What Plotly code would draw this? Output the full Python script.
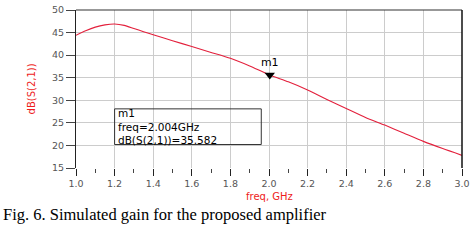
import plotly.graph_objects as go

freq = [1.0, 1.05, 1.1, 1.15, 1.2, 1.25, 1.3, 1.35, 1.4, 1.5, 1.6, 1.7, 1.8, 1.9, 2.0,
        2.1, 2.2, 2.3, 2.4, 2.5, 2.6, 2.7, 2.8, 2.9, 3.0]
gain_db = [44.4, 45.4, 46.2, 46.7, 46.9, 46.6, 45.9, 45.2, 44.5, 43.2, 41.9, 40.6, 39.3,
           37.6, 35.65, 34.1, 32.3, 30.2, 28.2, 26.2, 24.5, 22.7, 20.9, 19.3, 17.8]

marker_name = "m1"
marker_freq = 2.004
marker_db = 35.582

x_ticks = [1.0, 1.2, 1.4, 1.6, 1.8, 2.0, 2.2, 2.4, 2.6, 2.8, 3.0]
x_tick_labels = ["1.0", "1.2", "1.4", "1.6", "1.8", "2.0", "2.2", "2.4", "2.6", "2.8", "3.0"]
y_ticks = [15, 20, 25, 30, 35, 40, 45, 50]

W, H = 474, 249
L, R, T, B = 76, 8, 4.5, 80.5
pw = W - L - R
ph = H - T - B

def px_x(p):
    return (p - L) / pw

def px_y(p):
    return (H - B - p) / ph

fig = go.Figure()
fig.add_trace(go.Scatter(x=freq, y=gain_db, mode="lines",
                         line=dict(color="#e3203c", width=1.1, shape="spline", smoothing=0.6),
                         hoverinfo="skip"))
fig.add_trace(go.Scatter(x=[marker_freq], y=[marker_db], mode="markers+text",
                         marker=dict(symbol="triangle-down", size=9, color="black"),
                         text=[marker_name], textposition="top center",
                         textfont=dict(family="DejaVu Sans", size=11, color="black"),
                         hoverinfo="skip"))

tickfont = dict(family="DejaVu Sans", size=9.5, color="#555555")
fig.update_layout(
    width=W, height=H, margin=dict(l=L, r=R, t=T, b=B),
    paper_bgcolor="white", plot_bgcolor="white", showlegend=False,
    xaxis=dict(range=[1.0, 3.0], tickvals=x_ticks, ticktext=x_tick_labels,
               showgrid=True, gridcolor="#cccccc", gridwidth=1,
               ticks="outside", ticklen=7, tickcolor="#222222", tickwidth=1,
               minor=dict(dtick=0.1, ticks="outside", ticklen=4, tickcolor="#444444", showgrid=False),
               showline=False, zeroline=False, tickfont=tickfont, ticklabeloverflow="allow"),
    yaxis=dict(range=[15, 50], tickvals=y_ticks,
               showgrid=True, gridcolor="#cccccc", gridwidth=1,
               ticks="outside", ticklen=9, tickcolor="#444444",
               showline=True, linecolor="#222222", linewidth=1,
               zeroline=False, tickfont=tickfont, ticklabeloverflow="allow"),
)

# top and right frame lines
fig.add_shape(type="line", xref="paper", yref="paper", x0=0, x1=1, y0=1, y1=1,
              line=dict(color="#333333", width=1.2))
fig.add_shape(type="line", xref="paper", yref="paper", x0=1, x1=1, y0=0, y1=1,
              line=dict(color="#111111", width=1.5))

# marker readout box
fig.add_shape(type="rect", xref="x", yref="y", x0=1.2, x1=1.96, y0=20.2, y1=28.1,
              line=dict(color="#333333", width=1), fillcolor="rgba(255,255,255,0)")
box_text = "<br>".join([marker_name, "freq=%.3fGHz" % marker_freq, "dB(S(2,1))=%.3f" % marker_db])
fig.add_annotation(x=1.208, y=24.15, xref="x", yref="y", text=box_text, align="left",
                   showarrow=False, xanchor="left", yanchor="middle",
                   font=dict(family="DejaVu Sans", size=10.5, color="black"))

fig.add_annotation(x=px_x(31), y=0.5, xref="paper", yref="paper", text="dB(S(2,1))",
                   textangle=-90, showarrow=False, xanchor="center", yanchor="middle",
                   font=dict(family="DejaVu Sans", size=10, color="#ee1c1c"))
fig.add_annotation(x=0.5, y=px_y(198), xref="paper", yref="paper", text="freq, GHz",
                   showarrow=False, xanchor="center", yanchor="middle",
                   font=dict(family="DejaVu Sans", size=10, color="#ee1c1c"))
fig.add_annotation(x=px_x(0), y=px_y(217), xref="paper", yref="paper",
                   text="Fig. 6. Simulated gain for the proposed amplifier",
                   showarrow=False, xanchor="left", yanchor="middle",
                   font=dict(family="Liberation Serif", size=16.5, color="black"))

fig.write_html("out.html")
